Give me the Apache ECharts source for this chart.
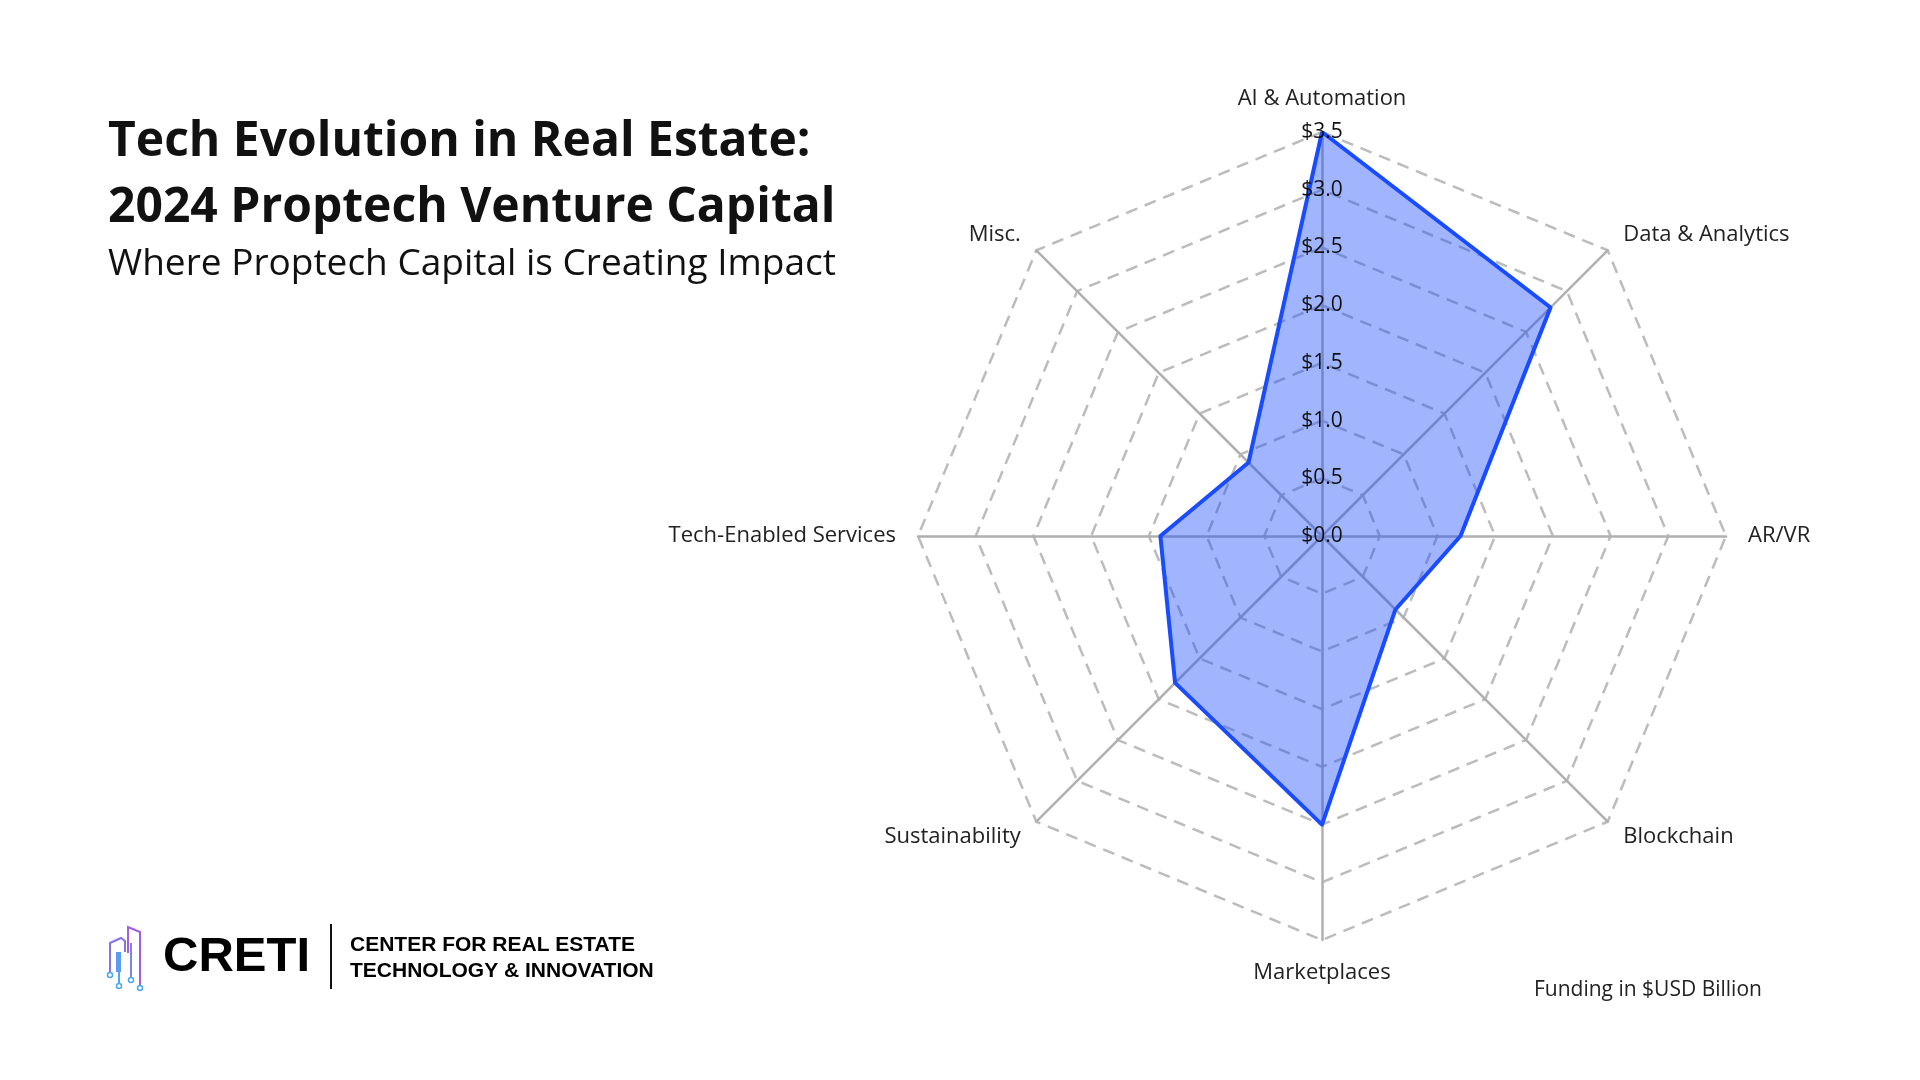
<!DOCTYPE html>
<html>
<head>
<meta charset="utf-8">
<title>Tech Evolution in Real Estate</title>
<script src="https://cdn.jsdelivr.net/npm/echarts@6/dist/echarts.min.js"></script>
<style>
    html, body { margin: 0; padding: 0; background: #fff; }
    #chart { width: 1920px; height: 1080px; }
</style>
</head>
<body>
<div id="chart"></div>
<script>
    // categories, counter-clockwise from the top (how echarts lays out radar axes)
    const categories = ['AI & Automation', 'Misc.', 'Tech-Enabled Services', 'Sustainability',
        'Marketplaces', 'Blockchain', 'AR/VR', 'Data & Analytics'];
    // funding in $USD billion
    const funding = [3.5, 0.9, 1.4, 1.8, 2.5, 0.9, 1.2, 2.8];
    const axisMax = 3.5;
    const ringCount = 7;

    const titleLines = ['Tech Evolution in Real Estate:', '2024 Proptech Venture Capital'];
    const subTitle = 'Where Proptech Capital is Creating Impact';
    const unitNote = 'Funding in $USD Billion';

    const font = 'Open Sans';
    const center = [1322, 536];
    const radius = 404;

    let chart = echarts.init(document.getElementById('chart'));

    // grid radar (drawn under the fill)
    const baseIndicators = categories.map(c => ({name: c, min: 0, max: axisMax}));
    // label radar (same geometry, only value labels on the top axis, drawn over the fill)
    const labelIndicators = categories.map((c, i) => {
        let ind = {name: c, min: 0, max: axisMax};
        if (i === 0) {
            ind.axisLabel = {
                show: true,
                formatter: v => '$' + Number(v).toFixed(1),
                color: '#111',
                fontSize: 21,
                fontFamily: font,
                align: 'center',
                verticalAlign: 'middle',
                margin: 0
            };
        }
        return ind;
    });

    chart.setOption({
        backgroundColor: '#fff',
        animation: false,
        title: [
            {
                text: titleLines.join('\n'),
                subtext: subTitle,
                left: 103,
                top: 104,
                itemGap: 2,
                textStyle: {
                    fontFamily: font,
                    fontSize: 48,
                    fontWeight: 700,
                    lineHeight: 66,
                    color: '#111'
                },
                subtextStyle: {
                    fontFamily: font,
                    fontSize: 37,
                    lineHeight: 42,
                    color: '#111'
                }
            },
            {
                text: unitNote,
                left: 1529,
                top: 975,
                textStyle: {fontFamily: font, fontSize: 21, fontWeight: 400, color: '#222'}
            }
        ],
        radar: [
            {
                center: center,
                radius: radius,
                startAngle: 90,
                shape: 'polygon',
                splitNumber: ringCount,
                indicator: baseIndicators,
                axisName: {color: '#222', fontSize: 22, fontFamily: font},
                nameGap: 22,
                axisLine: {lineStyle: {color: '#b0b0b0', width: 2.5}},
                splitLine: {lineStyle: {color: '#bcbcbc', width: 2.5, type: [12, 8]}},
                splitArea: {show: false},
                axisTick: {show: false},
                axisLabel: {show: false},
                z: 0
            },
            {
                center: center,
                radius: radius,
                startAngle: 90,
                shape: 'polygon',
                splitNumber: ringCount,
                indicator: labelIndicators,
                axisName: {show: false},
                axisLine: {show: false},
                splitLine: {show: false},
                splitArea: {show: false},
                axisTick: {show: false},
                axisLabel: {show: false},
                z: 5
            }
        ],
        series: [
            {
                type: 'radar',
                radarIndex: 0,
                symbol: 'none',
                z: 2,
                lineStyle: {color: '#1a4cff', width: 4},
                areaStyle: {color: '#1a4cff', opacity: 0.41},
                data: [{value: funding, name: 'Funding'}]
            }
        ],
        graphic: [
            // logo mark
            {
                type: 'group',
                children: [
                    {type: 'polyline', shape: {points: [[110, 972], [110, 943], [121, 938], [125, 941], [125, 952]]},
                        style: {stroke: '#8a72e8', lineWidth: 2, fill: null}},
                    {type: 'rect', shape: {x: 116, y: 952, width: 5, height: 20},
                        style: {fill: '#5b9cf0'}},
                    {type: 'polyline', shape: {points: [[119, 972], [119, 983]]},
                        style: {stroke: '#4aa8f0', lineWidth: 2}},
                    {type: 'polyline', shape: {points: [[128, 953], [128, 927], [140, 932], [140, 985]]},
                        style: {stroke: '#a35de0', lineWidth: 2, fill: null}},
                    {type: 'polyline', shape: {points: [[131, 943], [131, 977]]},
                        style: {stroke: '#7a86ec', lineWidth: 2}},
                    {type: 'circle', shape: {cx: 110, cy: 975, r: 2.5}, style: {fill: '#fff', stroke: '#4aa8f0', lineWidth: 1.5}},
                    {type: 'circle', shape: {cx: 119, cy: 986, r: 2.5}, style: {fill: '#fff', stroke: '#4aa8f0', lineWidth: 1.5}},
                    {type: 'circle', shape: {cx: 131, cy: 980, r: 2.5}, style: {fill: '#fff', stroke: '#4aa8f0', lineWidth: 1.5}},
                    {type: 'circle', shape: {cx: 140, cy: 988, r: 2.5}, style: {fill: '#fff', stroke: '#4aa8f0', lineWidth: 1.5}}
                ]
            },
            {
                type: 'text', left: 163, top: 933,
                style: {text: 'CRETI', fill: '#000', font: 'bold 49px "Liberation Sans", Arial, sans-serif'}
            },
            {
                type: 'rect', shape: {x: 330, y: 924, width: 2, height: 65}, style: {fill: '#111'}
            },
            {
                type: 'text', left: 350, top: 935,
                style: {text: 'CENTER FOR REAL ESTATE', fill: '#000', font: 'bold 21px "Liberation Sans", Arial, sans-serif'}
            },
            {
                type: 'text', left: 350, top: 961,
                style: {text: 'TECHNOLOGY & INNOVATION', fill: '#000', font: 'bold 21px "Liberation Sans", Arial, sans-serif'}
            }
        ]
    });
</script>
</body>
</html>
